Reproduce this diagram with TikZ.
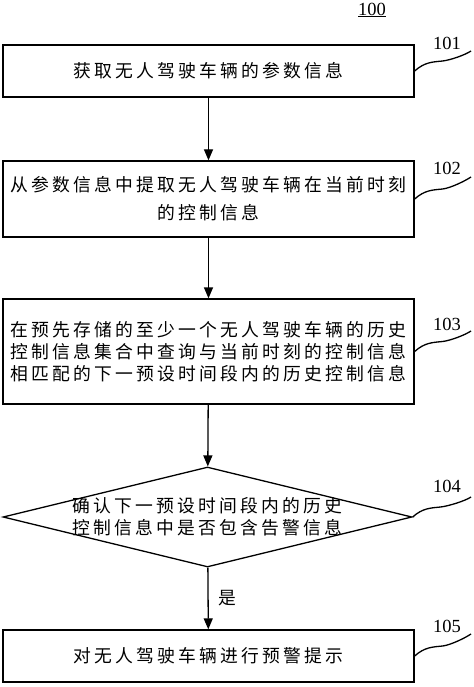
\documentclass[tikz,border=0pt]{standalone}
\usepackage{fontspec}
\setmainfont{Liberation Serif}
\newfontfamily\cjkfont[LetterSpace=18]{Noto Sans CJK SC}
\usepackage{tikz}
\usetikzlibrary{arrows.meta, shapes.geometric}

\begin{document}
\begin{tikzpicture}[x=1bp, y=-1bp,
        stepbox/.style={draw, line width=1.3bp, minimum width=411bp, inner sep=0pt,
            align=center, font=\cjkfont\fontsize{17.8bp}{22bp}\selectfont},
        flow/.style={-{Triangle[length=11bp, width=9bp]}, line width=1.3bp},
        tag/.style={font=\fontsize{18.5bp}{20bp}\selectfont, inner sep=0pt},
        leader/.style={line width=1.3bp}]
        \useasboundingbox (0,0) rectangle (474,687);

        % 图号
        \node[tag] (fig) at (372,10) {\underline{100}};

        % 步骤
        \node[stepbox, minimum height=52bp] (s101) at (208.5,71) {获取无人驾驶车辆的参数信息};
        \node[stepbox, minimum height=76bp, font=\cjkfont\fontsize{17.8bp}{28bp}\selectfont] (s102) at (208.5,199)
            {从参数信息中提取无人驾驶车辆在当前时刻\\的控制信息};
        \node[stepbox, minimum height=105bp] (s103) at (208.5,351.5)
            {在预先存储的至少一个无人驾驶车辆的历史\\控制信息集合中查询与当前时刻的控制信息\\相匹配的下一预设时间段内的历史控制信息};
        \node[diamond, draw, line width=1.3bp, aspect=4.09, minimum width=409bp, minimum height=100bp, inner sep=0pt,
            label={[align=center, font=\cjkfont\fontsize{17.8bp}{22bp}\selectfont]center:确认下一预设时间段内的历史\\控制信息中是否包含告警信息}]
            (s104) at (207.5,517) {};
        \node[stepbox, minimum height=52bp] (s105) at (208.5,656) {对无人驾驶车辆进行预警提示};

        % 箭头
        \draw[flow] (s101) -- (s102);
        \draw[flow] (s102) -- (s103);
        \draw[flow] (s103) -- (s104);
        \draw[flow] (s104) -- node[right=6bp, font=\cjkfont\fontsize{17.8bp}{20bp}\selectfont] (yes) {是} (s105);

        % 编号与引线
        \node[tag] (t101) at (447,43) {101};
        \node[tag] (t102) at (447,168) {102};
        \node[tag] (t103) at (447,324) {103};
        \node[tag] (t104) at (447,486) {104};
        \node[tag] (t105) at (447,626) {105};
        \coordinate (e101) at (471,51);
        \coordinate (e102) at (471,177);
        \coordinate (e103) at (471,331);
        \coordinate (e104) at (471,497);
        \coordinate (e105) at (471,634);
        \foreach \n in {101,...,105}
            \draw[leader] (s\n.east) .. controls +(10,-9) and +(-10,1) .. ++(28,-10)
                .. controls +(8,-1) and +(-6,4) .. (e\n);
    \end{tikzpicture}
\end{document}
